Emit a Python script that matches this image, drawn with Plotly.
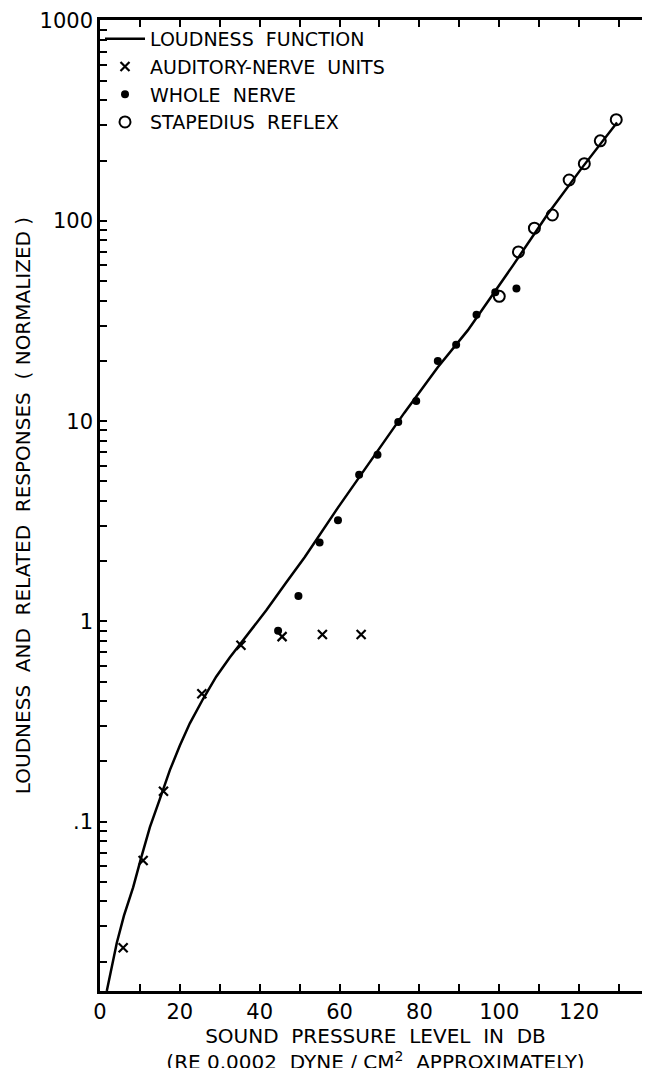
import plotly.graph_objects as go

# Loudness function
loud_x = [1.7, 3.0, 4.2, 6.0, 8.3, 10.3, 12.5, 15.0, 17.5, 20.0, 22.5, 25.8, 29.1, 32.5, 35.8, 38.8, 41.7, 46.5, 51.3, 59.6, 67.9, 76.2, 84.6, 92.1, 103.7, 112.1, 120.8, 129.5]
loud_y = [0.0143, 0.019, 0.0248, 0.034, 0.047, 0.066, 0.094, 0.13, 0.181, 0.24, 0.31, 0.41, 0.53, 0.66, 0.805, 0.96, 1.14, 1.55, 2.1, 3.7, 6.4, 11.0, 18.6, 28.4, 61, 108, 185, 310]

# Auditory-nerve units
an_x = [5.8, 10.8, 15.9, 25.5, 35.3, 45.6, 55.7, 65.4]
an_y = [0.0235, 0.064, 0.142, 0.436, 0.76, 0.84, 0.86, 0.86]

# Whole nerve
wn_x = [44.6, 49.7, 55.0, 59.6, 64.9, 69.5, 74.7, 79.2, 84.6, 89.2, 94.3, 99.0, 104.3]
wn_y = [0.90, 1.34, 2.48, 3.2, 5.4, 6.8, 9.9, 12.6, 20.0, 24.1, 34, 44, 46]

# Stapedius reflex
sr_x = [100.0, 104.8, 108.8, 113.3, 117.5, 121.3, 125.3, 129.3]
sr_y = [42, 70, 92, 107, 160, 193, 251, 320]

y_major = [0.1, 1, 10, 100, 1000]
y_major_text = [".1", "1", "10", "100", "1000"]
x_tick_vals = list(range(0, 140, 10))
x_tick_text = [str(v) if v % 20 == 0 else "" for v in x_tick_vals]

yv, yt = [], []
for d in [0.01, 0.1, 1, 10, 100]:
    for m in range(1, 10):
        v = round(m * d, 6)
        if v < 0.014:
            continue
        yv.append(v)
        yt.append("")
yv.append(1000); yt.append("")
for i, v in enumerate(yv):
    for mv, mt in zip(y_major, y_major_text):
        if abs(v - mv) < 1e-9:
            yt[i] = mt

FONT = "DejaVu Sans"
fig = go.Figure()
fig.add_trace(go.Scatter(x=loud_x, y=loud_y, mode="lines", line=dict(color="black", width=2.5),
                         name="LOUDNESS  FUNCTION"))
fig.add_trace(go.Scatter(x=an_x, y=an_y, mode="markers",
                         marker=dict(symbol="x-thin", size=9, line=dict(color="black", width=2.2), color="black"),
                         name="AUDITORY-NERVE  UNITS"))
fig.add_trace(go.Scatter(x=wn_x, y=wn_y, mode="markers", marker=dict(symbol="circle", size=8, color="black"),
                         name="WHOLE  NERVE"))
fig.add_trace(go.Scatter(x=sr_x, y=sr_y, mode="markers",
                         marker=dict(symbol="circle-open", size=11, color="black", line=dict(width=2)),
                         name="STAPEDIUS  REFLEX"))

fig.update_layout(
    width=650, height=1068,
    margin=dict(l=92, r=7, t=12, b=85),
    paper_bgcolor="white", plot_bgcolor="white",
    font=dict(family=FONT, color="black", size=19),
    legend=dict(x=0.0, y=1.0, xanchor="left", yanchor="top", bgcolor="rgba(0,0,0,0)",
                font=dict(size=19), tracegroupgap=0, itemwidth=40),
    showlegend=True,
)
fig.update_xaxes(range=[0, 138], tickvals=x_tick_vals, ticktext=x_tick_text, ticks="inside", ticklen=7,
                 tickwidth=1.8, tickcolor="black", showline=True, linewidth=2.5, linecolor="black", mirror="ticks",
                 showgrid=False, zeroline=False, tickfont=dict(size=21), automargin=False,
                 title=dict(text="SOUND  PRESSURE  LEVEL  IN  DB<br>(RE 0.0002  DYNE / CM<sup>2</sup>  APPROXIMATELY)",
                            font=dict(size=20), standoff=2))
fig.update_yaxes(type="log", range=[-1.845, 3.003], tickvals=yv, ticktext=yt, ticks="inside", ticklen=7,
                 tickwidth=1.8, tickcolor="black", showline=True, linewidth=2.5, linecolor="black", mirror="ticks",
                 showgrid=False, zeroline=False, tickfont=dict(size=21), automargin=False,
                 title=dict(text="LOUDNESS  AND  RELATED  RESPONSES  ( NORMALIZED )", font=dict(size=20), standoff=4))
fig.write_html("out.html")
